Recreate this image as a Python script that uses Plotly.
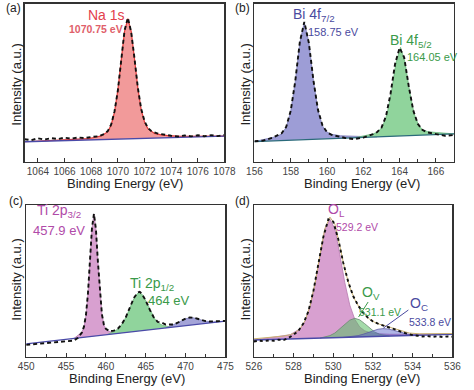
import plotly.graph_objects as go

# ---------------- Panel (a): Na 1s ----------------
A_data_x = [1063, 1063.5, 1064, 1064.5, 1065, 1065.5, 1066, 1066.5, 1067, 1067.5, 1068, 1068.5, 1069,
            1069.25, 1069.5, 1069.75, 1070, 1070.25, 1070.5, 1070.75, 1071, 1071.25, 1071.5, 1071.75,
            1072, 1072.25, 1072.5, 1073, 1073.5, 1074, 1074.5, 1075, 1075.5, 1076, 1076.5, 1077, 1077.5, 1078]
A_data_y = [14.2, 13.6, 14.8, 14.0, 14.9, 14.3, 15.2, 14.6, 15.3, 14.9, 15.6, 16.0, 17.5,
            19.5, 23.5, 31.8, 45.0, 63.5, 82.8, 91.0, 82.0, 65.2, 46.8, 33.4,
            25.6, 21.4, 19.4, 17.8, 16.9, 16.4, 15.9, 16.6, 16.0, 16.7, 16.1, 16.8, 16.2, 16.9]
A_peak_x = [1063, 1064, 1065, 1066, 1067, 1067.75, 1068.25, 1068.75, 1069.25, 1069.5, 1069.75, 1070,
            1070.25, 1070.5, 1070.75, 1071, 1071.25, 1071.5, 1071.75, 1072, 1072.25, 1072.75, 1073.25,
            1073.75, 1074.75, 1076, 1078]
A_peak_y = [12.6, 13.0, 13.3, 13.7, 14.2, 14.6, 15.3, 16.3, 19.0, 23.2, 31.3, 45.2,
            63.9, 82.3, 90.5, 82.4, 64.8, 46.5, 32.9, 25.1, 20.9, 17.9, 17.0,
            16.5, 16.1, 16.0, 16.2]
A_base_x = [1063, 1078]
A_base_y = [12.6, 16.2]
A_ticks = [1064, 1066, 1068, 1070, 1072, 1074, 1076, 1078]

# ---------------- Panel (b): Bi 4f ----------------
B_data_x = [156, 156.5, 157, 157.25, 157.5, 157.75, 158, 158.25, 158.5, 158.75, 159, 159.25, 159.5,
            159.75, 160, 160.25, 160.5, 161, 161.5, 162, 162.5, 162.75, 163, 163.25, 163.5, 163.75,
            164, 164.25, 164.5, 164.75, 165, 165.25, 165.5, 166, 166.5, 167]
B_data_y = [12.9, 13.4, 15.2, 16.4, 18.0, 22.0, 32.2, 51.0, 75.6, 88.4, 75.0, 51.5, 32.8,
            22.9, 18.6, 17.0, 16.2, 15.0, 14.3, 15.2, 17.2, 18.6, 21.5, 28.8, 43.0, 61.8,
            72.0, 66.0, 48.0, 32.5, 24.0, 20.2, 18.6, 17.4, 16.4, 16.9]
B_p1_x = [156, 156.75, 157.25, 157.5, 157.75, 158, 158.25, 158.5, 158.75, 159, 159.25, 159.5, 159.75,
          160, 160.25, 160.75, 161.25, 161.75, 162.75]
B_p1_y = [12.7, 14.6, 16.0, 17.6, 21.7, 31.8, 50.8, 75.2, 88.1, 75.4, 51.3, 32.5, 22.6,
          18.7, 17.3, 16.4, 16.0, 16.0, 15.7]
B_p2_x = [161.55, 162.05, 162.55, 162.8, 163.05, 163.3, 163.55, 163.8, 164.05, 164.3, 164.55, 164.8,
          165.05, 165.3, 165.55, 166.05, 166.55, 167]
B_p2_y = [15.17, 16.6, 17.6, 18.9, 22.0, 29.7, 44.1, 62.5, 72.3, 62.7, 44.5, 30.3,
          22.9, 20.0, 19.0, 18.4, 18.1, 17.6]
B_base_x = [156, 167]
B_base_y = [12.7, 17.6]
B_ticks = [156, 158, 160, 162, 164, 166]

# ---------------- Panel (c): Ti 2p ----------------
C_data_x = [450, 451, 452, 453, 454, 455, 456, 456.5, 457, 457.25, 457.5, 457.75, 458, 458.25, 458.5,
            458.75, 459, 459.25, 459.5, 459.75, 460, 460.5, 461, 461.5, 462, 462.5, 463, 463.5, 464,
            464.25, 464.5, 465, 465.5, 466, 466.5, 467, 467.5, 468, 468.5, 469, 469.5, 470, 470.5,
            471, 471.5, 472, 472.5, 473, 474, 475]
C_data_y = [7.8, 8.3, 8.8, 9.2, 9.6, 10.0, 10.6, 12.5, 16.0, 19.8, 27.5, 41.8, 62.8, 84.5, 94.2,
            84.0, 62.5, 42.0, 28.0, 21.0, 18.3, 16.8, 17.2, 18.5, 21.5, 26.0, 32.5, 38.6, 42.3,
            42.8, 41.6, 37.0, 31.0, 26.0, 23.0, 22.5, 21.2, 21.0, 21.2, 22.4, 23.8, 25.1, 25.8,
            25.7, 25.0, 24.2, 23.5, 23.2, 23.2, 23.6]
C_p1_x = [456.0, 456.5, 457.0, 457.25, 457.5, 457.75, 458.0, 458.25, 458.5, 458.75, 459.0, 459.25,
          459.5, 459.75, 460.0, 460.5, 461.5, 462.5]
C_p1_y = [12.02, 14.0, 16.2, 19.6, 27.1, 41.4, 62.3, 84.0, 93.9, 84.3, 62.9, 42.3,
          28.3, 21.1, 18.0, 16.4, 16.2, 15.95]
C_p2_x = [460.15, 460.65, 461.15, 461.65, 462.15, 462.65, 463.15, 463.65, 464.15, 464.65, 465.15,
          465.65, 466.15, 466.65, 467.15, 467.65, 468.15]
C_p2_y = [14.53, 15.8, 16.9, 18.9, 22.3, 27.6, 34.0, 39.9, 42.5, 40.5, 35.3,
          29.5, 24.8, 22.0, 20.6, 20.1, 19.37]
C_p3_x = [467.5, 468.5, 469.0, 469.5, 470.0, 470.5, 471.0, 471.5, 472.0, 472.5, 473.5, 474.5]
C_p3_y = [18.97, 21.0, 22.3, 23.7, 25.0, 25.6, 25.6, 24.9, 24.1, 23.4, 22.9, 23.2]
C_base_x = [450, 475]
C_base_y = [8.4, 23.5]
C_ticks = [450, 455, 460, 465, 470, 475]

# ---------------- Panel (d): O 1s ----------------
D_data_x = [526, 526.25, 526.5, 526.75, 527, 527.25, 527.5, 527.75, 528, 528.25, 528.5, 528.75, 529,
            529.25, 529.5, 529.75, 530, 530.25, 530.5, 530.75, 531, 531.25, 531.5, 531.75, 532,
            532.25, 532.5, 532.75, 533, 533.25, 533.5, 533.75, 534, 534.25, 534.5, 534.75, 535,
            535.25, 535.5, 535.75, 536]
D_data_y = [10.0, 10.6, 10.2, 10.7, 10.5, 11.2, 11.0, 12.4, 14.5, 17.2, 22.0, 30.0, 43.5,
            61.0, 79.0, 90.5, 89.0, 77.5, 62.0, 49.5, 40.0, 33.8, 29.0, 25.6, 23.2,
            21.8, 20.8, 19.6, 18.6, 17.3, 16.0, 14.9, 14.2, 13.8, 13.3, 13.6, 13.1,
            13.5, 13.0, 13.4, 13.2]
D_env_x = [526, 527, 527.5, 527.83, 528.08, 528.33, 528.58, 528.83, 529.08, 529.33, 529.58, 529.83,
           530.08, 530.33, 530.58, 530.83, 531.08, 531.33, 531.58, 531.83, 532.08, 532.33, 532.58,
           532.83, 533.08, 533.33, 533.58, 533.83, 534.33, 535, 536]
D_env_y = [11.8, 12.7, 13.6, 14.5, 15.8, 18.5, 23.8, 33.4, 48.3, 66.9, 84.6, 92.0,
           87.3, 72.9, 57.6, 45.7, 37.7, 32.0, 27.8, 24.7, 22.7, 21.4, 20.4,
           19.4, 18.3, 17.2, 16.2, 15.6, 15.1, 15.0, 15.3]
D_OL_x = [526, 527, 527.83, 528.33, 528.58, 528.83, 529.08, 529.33, 529.58, 529.83, 530.08, 530.33,
          530.58, 530.83, 531.08, 531.33, 531.58, 531.83, 532.33, 532.83, 533.83, 536]
D_OL_y = [11.0, 12.7, 14.5, 18.5, 23.8, 33.4, 48.3, 66.9, 84.1, 90.6, 84.3, 67.3,
          48.8, 34.1, 24.7, 19.6, 17.1, 16.0, 15.1, 14.8, 14.8, 14.8]
D_OV_x = [529.33, 529.58, 529.83, 530.08, 530.33, 530.58, 530.83, 531.08, 531.33, 531.58, 531.83,
          532.08, 532.33, 532.58, 532.83]
D_OV_y = [12.27, 12.9, 13.9, 15.6, 18.3, 21.4, 24.1, 25.3, 24.3, 21.8, 18.8,
          16.3, 14.8, 14.0, 13.6]
D_OC_x = [530.5, 531.0, 531.25, 531.5, 531.75, 532.0, 532.25, 532.5, 532.75, 533.0, 533.25, 533.5,
          533.75, 534.0, 534.5]
D_OC_y = [12.71, 13.3, 13.9, 14.8, 15.9, 17.1, 18.1, 18.5, 18.3, 17.5, 16.5, 15.6,
          14.9, 14.4, 14.23]
D_base_x = [526, 536]
D_base_y = [11.0, 14.8]
D_ticks = [526, 528, 530, 532, 534, 536]

# ---------------- figure ----------------
W, H = 474, 390
fig = go.Figure()


def add(xs, ys, ax, **kw):
    fig.add_trace(go.Scatter(x=xs, y=ys, xaxis="x" + ax, yaxis="y" + ax, mode="lines",
                             hoverinfo="skip", showlegend=False, **kw))


DATA_LINE = dict(color="#111111", width=1.9, dash="4px,3px")

# (a)
add(A_peak_x, A_peak_y, "", fill="toself", fillcolor="#f29a9a", line=dict(color="#e23a3a", width=1.2))
add(A_base_x, A_base_y, "", line=dict(color="#4a4aa8", width=1.3))
add(A_data_x, A_data_y, "", line=DATA_LINE)

# (b)
add(B_p1_x, B_p1_y, "2", fill="toself", fillcolor="#9d9dd6", line=dict(color="#7a7ab8", width=0.8))
add(B_p2_x, B_p2_y, "2", fill="toself", fillcolor="#90d49c", line=dict(color="#6ab47a", width=0.8))
add(B_base_x, B_base_y, "2", line=dict(color="#2a6a7a", width=1.3))
add(B_data_x, B_data_y, "2", line=DATA_LINE)

# (c)
add(C_p1_x, C_p1_y, "3", fill="toself", fillcolor="#d8a0d0", line=dict(color="#b878b0", width=0.8))
add(C_p2_x, C_p2_y, "3", fill="toself", fillcolor="#90d49c", line=dict(color="#6ab47a", width=0.8))
add(C_p3_x, C_p3_y, "3", fill="toself", fillcolor="#a4a4d8", line=dict(color="#7a7ab8", width=0.8))
add(C_base_x, C_base_y, "3", line=dict(color="#4a4aa8", width=1.3))
add(C_data_x, C_data_y, "3", line=DATA_LINE)

# (d)
add(D_OL_x, D_OL_y, "4", fill="toself", fillcolor="#d8a0d0", line=dict(color="#b878b0", width=0.8))
add(D_OV_x, D_OV_y, "4", fill="toself", fillcolor="rgba(90,190,100,0.55)", line=dict(color="#6a8a70", width=0.8))
add(D_OC_x, D_OC_y, "4", fill="toself", fillcolor="rgba(80,90,200,0.45)", line=dict(color="#5a5aa0", width=0.8))
add(D_base_x, D_base_y, "4", line=dict(color="#4a4aa8", width=1.3))
add(D_env_x, D_env_y, "4", line=dict(color="#c8b070", width=1.0))
add(D_data_x, D_data_y, "4", line=dict(color="#111111", width=1.9, dash="3px,3px"))


def px2p(x, y):
    return x / W, 1 - y / H


XA = [17.3 / W, 226 / W]
XB = [257.3 / W, 465.7 / W]
XC = [19 / W, 227 / W]
XD = [256.7 / W, 464 / W]
YT = [1 - 161.7 / H, 1 - 3.5 / H]
YB = [1 - 356.7 / H, 1 - 205 / H]

FONT = "Liberation Sans, Arial, sans-serif"


def xax(dom, rng, ticks, minor_step, anchor):
    d = dict(domain=dom, range=rng, tickvals=ticks, ticks="inside", ticklen=4, tickwidth=1,
             tickcolor="#333", showline=True, mirror=True, linecolor="#333", linewidth=1.2,
             showgrid=False, zeroline=False, anchor=anchor,
             tickfont=dict(size=10, color="#444", family=FONT))
    if minor_step:
        d["minor"] = dict(ticks="inside", ticklen=3, dtick=minor_step, tickcolor="#333", showgrid=False)
    return d


def yax(dom, anchor):
    return dict(domain=dom, range=[0, 100], showticklabels=False, ticks="", showline=True,
                mirror=True, linecolor="#333", linewidth=1.2, showgrid=False, zeroline=False,
                anchor=anchor)


fig.update_layout(
    width=W, height=H, margin=dict(l=0, r=0, t=0, b=0),
    paper_bgcolor="white", plot_bgcolor="white", showlegend=False,
    font=dict(family=FONT),
    xaxis=xax(XA, [1063, 1078], A_ticks, None, "y"),
    yaxis=yax(YT, "x"),
    xaxis2=xax(XB, [156, 167], B_ticks, 1, "y2"),
    yaxis2=yax(YT, "x2"),
    xaxis3=xax(XC, [450, 475], C_ticks, 2.5, "y3"),
    yaxis3=yax(YB, "x3"),
    xaxis4=xax(XD, [526, 536], D_ticks, 1, "y4"),
    yaxis4=yax(YB, "x4"),
)

ann = []


def text(x, y, s, size, color="#222", angle=0, xanchor="center"):
    ax_, ay_ = px2p(x, y)
    ann.append(dict(x=ax_, y=ay_, xref="paper", yref="paper", text=s, showarrow=False,
                    font=dict(size=size, color=color, family=FONT), textangle=angle,
                    xanchor=xanchor, yanchor="middle", borderpad=0))


# panel letters
text(6, 8, "(a)", 12)
text(245, 8, "(b)", 12)
text(8, 201, "(c)", 12)
text(245, 201, "(d)", 12)

# axis titles
for cx in (122, 370):
    text(cx, 183.5, "Binding Energy (eV)", 13)
for cx in (124, 370):
    text(cx, 378, "Binding Energy (eV)", 13)
for (cx, cy) in ((8, 85), (247, 85), (8, 280), (247, 280)):
    text(cx, cy, "Intensity (a.u.)", 13, angle=-90)

# peak labels
RED = "#e3404c"
BLUE = "#4a4aa0"
GREEN = "#3a9a4a"
MAG = "#b04aa8"
text(103, 15, "Na 1s", 14, RED)
text(92, 29, "<b>1070.75 eV</b>", 10.5, "#e0606a")
text(320, 15, "Bi 4f<sub>7/2</sub>", 14, BLUE)
text(340, 32, "158.75 eV", 11, BLUE)
text(421, 41, "Bi 4f<sub>5/2</sub>", 14, GREEN)
text(443, 57, "164.05 eV", 11, GREEN)
text(53, 211, "Ti 2p<sub>3/2</sub>", 14, MAG)
text(53, 230, "457.9 eV", 13, MAG)
text(150, 284, "Ti 2p<sub>1/2</sub>", 14, GREEN)
text(168, 300, "464 eV", 13, GREEN)
text(343, 210, "O<sub>L</sub>", 14, MAG)
text(364, 227, "529.2 eV", 10.5, MAG)
text(379, 293, "O<sub>V</sub>", 14, GREEN)
text(388, 312, "531.1 eV", 10.5, GREEN)
text(429, 304, "O<sub>C</sub>", 14, BLUE)
text(441, 322, "533.8 eV", 10.5, BLUE)

fig.update_layout(annotations=ann)

# pointer lines in (d)
shapes = []
for (x0, y0, x1, y1, c) in ((376, 302, 366, 317, GREEN), (418, 310, 392, 328, BLUE)):
    a0, b0 = px2p(x0, y0)
    a1, b1 = px2p(x1, y1)
    shapes.append(dict(type="line", xref="paper", yref="paper", x0=a0, y0=b0, x1=a1, y1=b1,
                       line=dict(color=c, width=1)))
fig.update_layout(shapes=shapes)

fig.write_html("out.html", config={"displayModeBar": False, "staticPlot": True},
               post_script="document.body.style.margin='0';document.body.style.padding='0';")
